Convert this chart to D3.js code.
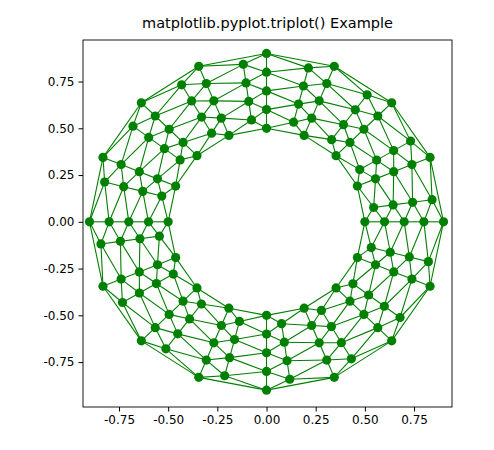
<!DOCTYPE html><html><head><script src="https://cdn.jsdelivr.net/npm/d3@7"></script>
<style>body{margin:0;background:#fff}text{font-family:"DejaVu Sans",sans-serif}</style></head><body>
<svg id="c" width="494" height="450"></svg>
<script>
const nAngles = 16, nRadii = 9, minRadius = 0.5, maxRadius = 0.9;
const oddRingOffsetDeg = 8;
const xTicks = [-0.75,-0.5,-0.25,0,0.25,0.5,0.75];
const yTicks = [-0.75,-0.5,-0.25,0,0.25,0.5,0.75];
const title = "matplotlib.pyplot.triplot() Example";
const pts = [];
for (let a=0;a<nAngles;a++) for (let r=0;r<nRadii;r++){
  const rad = minRadius + (maxRadius-minRadius)*r/(nRadii-1);
  let ang = 2*Math.PI*a/nAngles + (r%2 ? oddRingOffsetDeg*Math.PI/180 : 0);
  pts.push([rad*Math.cos(ang), rad*Math.sin(ang)]);
}
const svg = d3.select("#c");
const L=83,R=452,T=40,B=407;
const x = d3.scaleLinear().domain([-0.933,0.943]).range([L,R]);
const y = d3.scaleLinear().domain([-0.99,0.972]).range([B,T]);
svg.append("text").attr("x",(L+R)/2).attr("y",28).attr("text-anchor","middle").attr("font-size",14.5).text(title);
const del = d3.Delaunay.from(pts);
const tr = del.triangles;
const edges = new Set();
for (let i=0;i<tr.length;i+=3){
  const t=[tr[i],tr[i+1],tr[i+2]];
  const cx=(pts[t[0]][0]+pts[t[1]][0]+pts[t[2]][0])/3, cy=(pts[t[0]][1]+pts[t[1]][1]+pts[t[2]][1])/3;
  if (Math.hypot(cx,cy)<minRadius) continue;
  for (let k=0;k<3;k++){const a=t[k],b=t[(k+1)%3];edges.add(Math.min(a,b)+","+Math.max(a,b));}
}
const g=svg.append("g");
edges.forEach(e=>{const [a,b]=e.split(",").map(Number);
  g.append("line").attr("x1",x(pts[a][0])).attr("y1",y(pts[a][1])).attr("x2",x(pts[b][0])).attr("y2",y(pts[b][1])).attr("stroke","#008000").attr("stroke-width",1.1);});
g.selectAll("circle").data(pts).join("circle").attr("cx",d=>x(d[0])).attr("cy",d=>y(d[1])).attr("r",4.6).attr("fill","#008000");
svg.append("rect").attr("x",L).attr("y",T).attr("width",R-L).attr("height",B-T).attr("fill","none").attr("stroke","#000").attr("stroke-width",0.9);
const fmt=d=>d.toFixed(2);
svg.append("g").attr("transform",`translate(0,${B})`).call(d3.axisBottom(x).tickValues(xTicks).tickFormat(fmt).tickSize(4.5).tickPadding(4)).call(s=>{s.select(".domain").remove();s.selectAll("text").attr("font-size",12).attr("fill","#000");});
svg.append("g").attr("transform",`translate(${L},0)`).call(d3.axisLeft(y).tickValues(yTicks).tickFormat(fmt).tickSize(4.5).tickPadding(4)).call(s=>{s.select(".domain").remove();s.selectAll("text").attr("font-size",12).attr("fill","#000");});
</script></body></html>
